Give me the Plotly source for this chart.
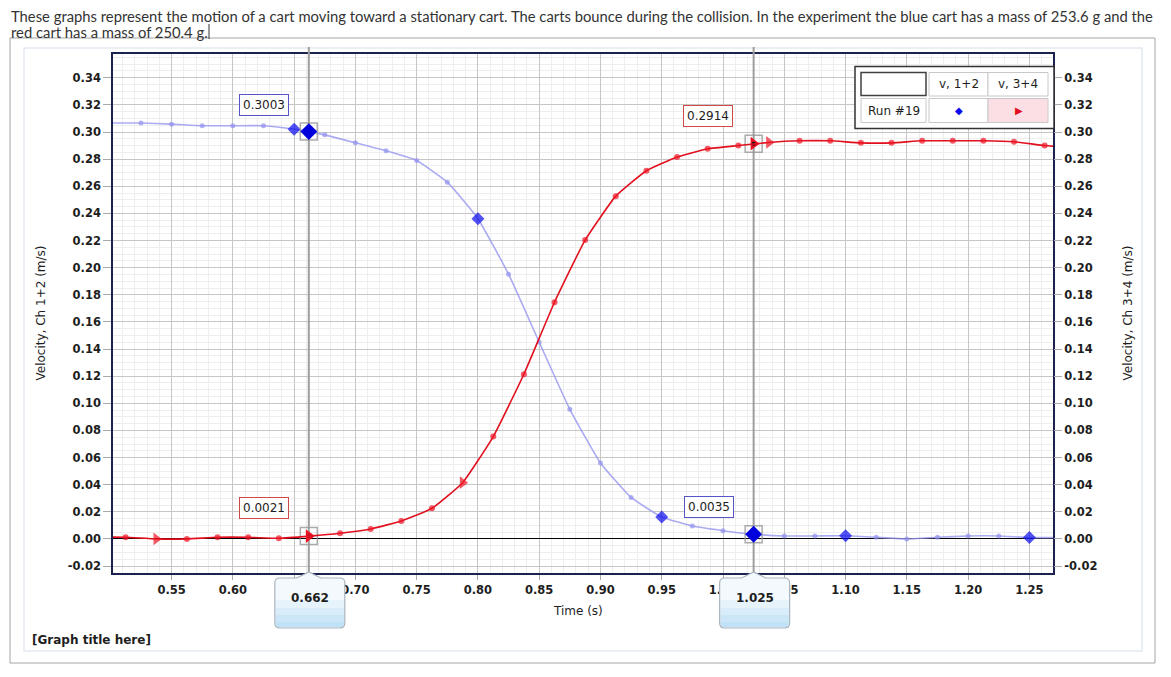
import plotly.graph_objects as go

# ---------------- data ----------------
blue_t = [0.500, 0.525, 0.550, 0.575, 0.600, 0.625, 0.650, 0.675, 0.700, 0.725,
          0.750, 0.775, 0.800, 0.825, 0.850, 0.875, 0.900, 0.925, 0.950, 0.975,
          1.000, 1.025, 1.050, 1.075, 1.100, 1.125, 1.150, 1.175, 1.200, 1.225,
          1.250, 1.275]
blue_v = [0.3066, 0.3066, 0.3058, 0.3046, 0.3046, 0.3046, 0.3021, 0.2979, 0.2920, 0.2861,
          0.2790, 0.2630, 0.2361, 0.1952, 0.1451, 0.0956, 0.0560, 0.0306, 0.0162, 0.0095,
          0.0061, 0.0035, 0.0022, 0.0022, 0.0024, 0.0012, 0.0000, 0.0012, 0.0022, 0.0022,
          0.0010, 0.0010]

red_t = [0.4875, 0.5125, 0.5375, 0.5625, 0.5875, 0.6125, 0.6375, 0.6625, 0.6875, 0.7125,
         0.7375, 0.7625, 0.7875, 0.8125, 0.8375, 0.8625, 0.8875, 0.9125, 0.9375, 0.9625,
         0.9875, 1.0125, 1.0375, 1.0625, 1.0875, 1.1125, 1.1375, 1.1625, 1.1875, 1.2125,
         1.2375, 1.2625, 1.2875]
red_v = [0.0015, 0.0012, 0.0000, 0.0000, 0.0012, 0.0012, 0.0005, 0.0021, 0.0042, 0.0074,
         0.0133, 0.0226, 0.0415, 0.0755, 0.1214, 0.1745, 0.2203, 0.2527, 0.2714, 0.2815,
         0.2876, 0.2900, 0.2923, 0.2935, 0.2935, 0.2920, 0.2920, 0.2935, 0.2935, 0.2935,
         0.2928, 0.2900, 0.2885]

cursor_t = [0.662, 1.025]
cursor_blue = [0.3003, 0.0035]
cursor_red = [0.0021, 0.2914]
cursor_labels = ["0.662", "1.025"]

x_ticks = [0.55, 0.60, 0.65, 0.70, 0.75, 0.80, 0.85, 0.90, 0.95, 1.00, 1.05, 1.10, 1.15, 1.20, 1.25]
y_ticks = [-0.02, 0.00, 0.02, 0.04, 0.06, 0.08, 0.10, 0.12, 0.14, 0.16, 0.18, 0.20,
           0.22, 0.24, 0.26, 0.28, 0.30, 0.32, 0.34]

top_text_1 = ("These graphs represent the motion of a cart moving toward a stationary cart. "
              "The carts bounce during the collision. In the experiment the blue cart has a mass of 253.6 g and the")
top_text_2 = "red cart has a mass of 250.4 g."
run_name = "Run #19"
col1_name = "v, 1+2"
col2_name = "v, 3+4"
y1_title = "Velocity, Ch 1+2 (m/s)"
y2_title = "Velocity, Ch 3+4 (m/s)"
x_title = "Time (s)"
graph_title = "[Graph title here]"

# ---------------- layout geometry ----------------
# page body has an 8 px margin, so the figure is placed at (8, 8) in the window
OFF = 8
W, H = 1171 - OFF, 677 - OFF
PL, PT, PR, PB = 113, 54, 1053, 573          # plot area in window pixels
XR = [0.5022, 1.2693]
YR = [-0.0251, 0.3575]
FONT = "DejaVu Sans"
TXT = "#1e1e1e"
CALL_L, CALL_R = 34, 36                       # callout box extent around the cursor (px)


def X(px):
    return (px - PL) / (PR - PL)


def Y(py):
    return (PB - py) / (PB - PT)


def data_px(t):
    return PL + (t - XR[0]) / (XR[1] - XR[0]) * (PR - PL)


fig = go.Figure()

# cursor lines (inside plot)
for t in cursor_t:
    fig.add_trace(go.Scatter(x=[t, t], y=YR, mode="lines",
                             line=dict(color="#9e9e9e", width=2), showlegend=False, hoverinfo="skip"))

# blue series
b_sym = ["diamond" if (i % 6 == 0) else "circle" for i in range(len(blue_t))]
b_size = [0 if blue_t[i] < XR[0] else (10 if i % 6 == 0 else 5) for i in range(len(blue_t))]
b_col = ["#0a0aee" if i % 6 == 0 else "#9393ee" for i in range(len(blue_t))]
fig.add_trace(go.Scatter(
    x=blue_t, y=blue_v, mode="lines+markers", name=col1_name,
    line=dict(color="rgba(150,150,240,0.8)", width=1.6, shape="spline", smoothing=0.4),
    marker=dict(symbol=b_sym, size=b_size, color=b_col, line=dict(width=0)),
    showlegend=False))

# red series
r_sym = ["triangle-right" if i % 10 == 2 else "circle" for i in range(len(red_t))]
r_size = [0 if red_t[i] < XR[0] else (11 if i % 10 == 2 else 6) for i in range(len(red_t))]
fig.add_trace(go.Scatter(
    x=red_t, y=red_v, mode="lines+markers", name=col2_name, yaxis="y2",
    line=dict(color="#e2101e", width=1.6, shape="spline", smoothing=0.4),
    marker=dict(symbol=r_sym, size=r_size, color="#ec1424", line=dict(width=0)),
    showlegend=False))

# cursor markers
fig.add_trace(go.Scatter(
    x=cursor_t + cursor_t, y=cursor_blue + cursor_red, mode="markers",
    marker=dict(symbol="square-open", size=17, color="rgba(150,150,150,0.8)", line=dict(width=1.5)),
    showlegend=False))
fig.add_trace(go.Scatter(
    x=cursor_t, y=cursor_blue, mode="markers",
    marker=dict(symbol="diamond", size=13, color="#0000dd", line=dict(width=0)),
    showlegend=False))
fig.add_trace(go.Scatter(
    x=cursor_t, y=cursor_red, mode="markers",
    marker=dict(symbol="triangle-right", size=12, color="#ec1424", line=dict(width=0)),
    showlegend=False))
fig.add_trace(go.Scatter(
    x=cursor_t, y=cursor_red, mode="markers",
    marker=dict(symbol="circle", size=4, color="#111111"),
    showlegend=False))

shapes = []
annotations = []


def ann(px, py, text, size=12, color=TXT, xanchor="center", yanchor="middle", **kw):
    d = dict(xref="paper", yref="paper", x=X(px), y=Y(py), text=text, showarrow=False,
             xanchor=xanchor, yanchor=yanchor, font=dict(family=FONT, size=size, color=color))
    d.update(kw)
    annotations.append(d)


# outer boxes
shapes.append(dict(type="rect", xref="paper", yref="paper", x0=X(10), x1=X(1155), y0=Y(663), y1=Y(38),
                   line=dict(color="#a4a4a4", width=1), layer="below"))
shapes.append(dict(type="rect", xref="paper", yref="paper", x0=X(24), x1=X(1142), y0=Y(651), y1=Y(48),
                   line=dict(color="#e2eaf2", width=1.5), layer="below"))
# text cursor after the question text
shapes.append(dict(type="line", xref="paper", yref="paper", x0=X(209), x1=X(209), y0=Y(39), y1=Y(24),
                   line=dict(color="#333333", width=1), layer="above"))

# cursor line stubs above the plot
for t in cursor_t:
    shapes.append(dict(type="line", xref="x", yref="paper", x0=t, x1=t, y0=1, y1=Y(47),
                       line=dict(color="#9e9e9e", width=2), layer="above"))

# value boxes near cursors
val_boxes = [
    (cursor_blue[0], "#5555c8", 263.5, 104.5),
    (cursor_red[1], "#d04848", 707.5, 116.0),
    (cursor_red[0], "#d04848", 264.0, 508.0),
    (cursor_blue[1], "#5555c8", 709.0, 506.5),
]
for v, col, cx, cy in val_boxes:
    ann(cx, cy, f"{v:.4f}", bgcolor="white", bordercolor=col, borderwidth=1, borderpad=3)


def path_from_px(cmds):
    out = []
    for cmd in cmds:
        if cmd[0] in ("M", "L"):
            out.append(f"{cmd[0]} {X(cmd[1]):.5f},{Y(cmd[2]):.5f}")
        elif cmd[0] == "Q":
            out.append(f"Q {X(cmd[1]):.5f},{Y(cmd[2]):.5f} {X(cmd[3]):.5f},{Y(cmd[4]):.5f}")
        elif cmd[0] == "Z":
            out.append("Z")
    return " ".join(out)


# cursor callouts below the x axis
for t, lab in zip(cursor_t, cursor_labels):
    cx = data_px(t)
    x0, x1, y0, y1, r = cx - CALL_L, cx + CALL_R, 578, 628, 5
    body = [("M", x0 + r, y0), ("L", cx - 12, y0), ("L", cx, 572), ("L", cx + 12, y0),
            ("L", x1 - r, y0), ("Q", x1, y0, x1, y0 + r), ("L", x1, y1 - r),
            ("Q", x1, y1, x1 - r, y1), ("L", x0 + r, y1), ("Q", x0, y1, x0, y1 - r),
            ("L", x0, y0 + r), ("Q", x0, y0, x0 + r, y0), ("Z",)]
    shapes.append(dict(type="path", xref="paper", yref="paper", path=path_from_px(body),
                       fillcolor="#f3f9fd", line=dict(width=0), layer="above"))
    bands = [(600, 608, "#e6f3fb"), (608, 615, "#d8edf9"), (615, 622, "#cbe7f7")]
    for b0, b1, c in bands:
        shapes.append(dict(type="rect", xref="paper", yref="paper", x0=X(x0 + 0.8), x1=X(x1 - 0.8),
                           y0=Y(b1), y1=Y(b0), fillcolor=c, line=dict(width=0), layer="above"))
    bottom = [("M", x0 + 0.8, 622), ("L", x1 - 0.8, 622), ("L", x1 - 0.8, y1 - r),
              ("Q", x1 - 0.8, y1 - 0.8, x1 - r, y1 - 0.8), ("L", x0 + r, y1 - 0.8),
              ("Q", x0 + 0.8, y1 - 0.8, x0 + 0.8, y1 - r), ("Z",)]
    shapes.append(dict(type="path", xref="paper", yref="paper", path=path_from_px(bottom),
                       fillcolor="#c0e2f6", line=dict(width=0), layer="above"))
    shapes.append(dict(type="path", xref="paper", yref="paper", path=path_from_px(body),
                       fillcolor="rgba(0,0,0,0)", line=dict(color="#a9b4bf", width=1.2), layer="above"))
    ann(cx + 1, 598, lab, font=dict(family=FONT, size=12, color=TXT, weight="bold"))

# x tick labels: a label that sits entirely under a callout box is not visible
half_lab = 14


def tick_hidden(v):
    p = data_px(v)
    return any(data_px(t) - CALL_L <= p - half_lab and p + half_lab <= data_px(t) + CALL_R for t in cursor_t)


x_ticktext = ["" if tick_hidden(v) else f"{v:.2f}" for v in x_ticks]

# legend table
shapes.append(dict(type="rect", xref="paper", yref="paper", x0=X(855), x1=X(1054), y0=Y(128.5), y1=Y(66.5),
                   fillcolor="white", line=dict(color="#333333", width=1.5), layer="above"))
cells = [
    (861, 926, 72.5, 95.5, "#404040", "white", 1.5),
    (929, 988, 72.5, 96, "#c8c8c8", "white", 1),
    (988, 1048, 72.5, 96, "#c8c8c8", "white", 1),
    (861, 926, 98.5, 122.5, "#c8c8c8", "white", 1),
    (929, 988, 98.5, 122.5, "#c8c8c8", "white", 1),
    (988, 1048, 98.5, 122.5, "#c8c8c8", "#fbdfe5", 1),
]
for a, b, c, d, lc, fc, lw in cells:
    shapes.append(dict(type="rect", xref="paper", yref="paper", x0=X(a), x1=X(b), y0=Y(d), y1=Y(c),
                       fillcolor=fc, line=dict(color=lc, width=lw), layer="above"))
ann(958.5, 84.5, col1_name)
ann(1018, 84.5, col2_name)
ann(893.5, 110.5, run_name)
ann(958.5, 110.5, "◆", size=10, color="#0a0aee")
ann(1018.5, 110.5, "▶", size=10, color="#e2101e")

# titles & text
ann(40, 313.5, y1_title, textangle=-90)
ann(1127, 313.5, y2_title, textangle=-90)
ann(578, 611, x_title)
ann(30, 640, graph_title, xanchor="left", font=dict(family=FONT, size=12, color=TXT, weight="bold"))
ann(9, 16, top_text_1, xanchor="left", font=dict(family="Lato", size=14.8, color="#333333"))
ann(9, 32, top_text_2, xanchor="left", font=dict(family="Lato", size=14.8, color="#333333"))

axis_font = dict(family=FONT, size=11.5, color=TXT, weight="bold")
fig.update_layout(
    width=W, height=H, autosize=False,
    margin=dict(l=PL - OFF, r=W - (PR - OFF), t=PT - OFF, b=H - (PB - OFF), pad=0),
    paper_bgcolor="white", plot_bgcolor="white",
    showlegend=False,
    xaxis=dict(range=XR, tickvals=x_ticks, ticktext=x_ticktext,
               showgrid=True, gridcolor="#c6c6c6", gridwidth=1,
               minor=dict(dtick=0.01, tick0=0.5, showgrid=True, gridcolor="#eeeeee", gridwidth=1, ticks=""),
               ticks="outside", ticklen=5, tickcolor="#aaaaaa", tickfont=axis_font,
               showline=True, mirror=True, linecolor="#1c2250", linewidth=1.5, zeroline=False),
    yaxis=dict(range=YR, tickvals=y_ticks, ticktext=[f"{v:.2f}" for v in y_ticks],
               showgrid=True, gridcolor="#c6c6c6", gridwidth=1,
               minor=dict(dtick=0.005, tick0=0, showgrid=True, gridcolor="#eeeeee", gridwidth=1, ticks=""),
               ticks="outside", ticklen=8, tickcolor="#aaaaaa", tickfont=axis_font,
               showline=True, mirror=True, linecolor="#1c2250", linewidth=1.5,
               zeroline=True, zerolinecolor="#000000", zerolinewidth=1.2),
    yaxis2=dict(range=YR, tickvals=y_ticks, ticktext=[f"{v:.2f}" for v in y_ticks],
                overlaying="y", side="right", showgrid=False, zeroline=False,
                ticks="outside", ticklen=8, tickcolor="#aaaaaa", tickfont=axis_font),
    shapes=shapes, annotations=annotations,
)

fig.write_html("out.html")
